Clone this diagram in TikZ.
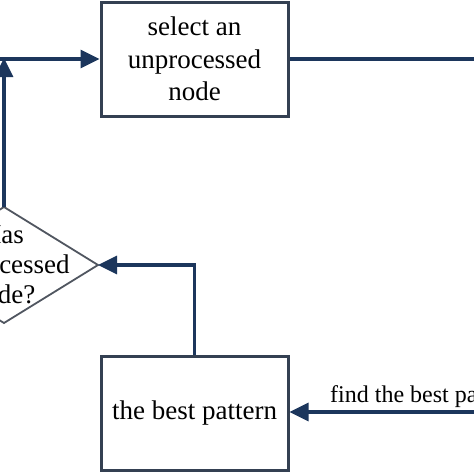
\documentclass[tikz,border=0pt]{standalone}
\usepackage{fontspec}
\setmainfont{Liberation Serif}
\usetikzlibrary{arrows.meta}
\definecolor{navy}{RGB}{28,54,92}
\definecolor{boxline}{RGB}{52,64,82}
\definecolor{dialine}{RGB}{80,86,96}
\tikzset{
  stepbox/.style={draw=boxline, line width=3pt, minimum width=187pt, minimum height=114pt,
    align=center, inner sep=0pt, font=\fontsize{27}{32.5}\selectfont},
  txt/.style={align=center, inner sep=0pt, font=\fontsize{27}{30}\selectfont},
  conn/.style={draw=navy, line width=3.4pt, -{Triangle[length=19pt,width=18pt]}},
  plain/.style={draw=navy, line width=3.4pt},
  lbl/.style={inner sep=0pt, font=\fontsize{24}{28}\selectfont}
}
\begin{document}
\begin{tikzpicture}[x=1pt,y=-1pt]
\useasboundingbox (0,0) rectangle (474,474);
\clip (0,0) rectangle (474,474);
\fill[white] (0,0) rectangle (474,474);
\node[stepbox] (sel) at (194.5,59) {select an\\unprocessed\\node};
\node[stepbox] (best) at (194.5,413) {the best pattern};
\draw[dialine, line width=1.8pt] (4,207) -- (98,265) -- (4,323) -- (-90,265) -- cycle;
\node[txt] (q) at (3,265) {Has\\unprocessed\\node?};
\coordinate (qT) at (4,207);
\coordinate (qR) at (98,265);
\coordinate (j) at (4,58);
\coordinate (inL) at (-20,59);
\coordinate (outR) at (500,59);
\coordinate (inR) at (500,412);
\draw[conn] (inL) -- (sel.west);
\draw[conn] (qT) -- (j);
\draw[plain] (sel.east) -- (outR);
\draw[conn] (best.north) |- (qR);
\draw[conn] (inR) -- (best.east |- inR);
\node[lbl, anchor=base west] (lab) at (330,402) {find the best pattern};
\end{tikzpicture}
\end{document}
